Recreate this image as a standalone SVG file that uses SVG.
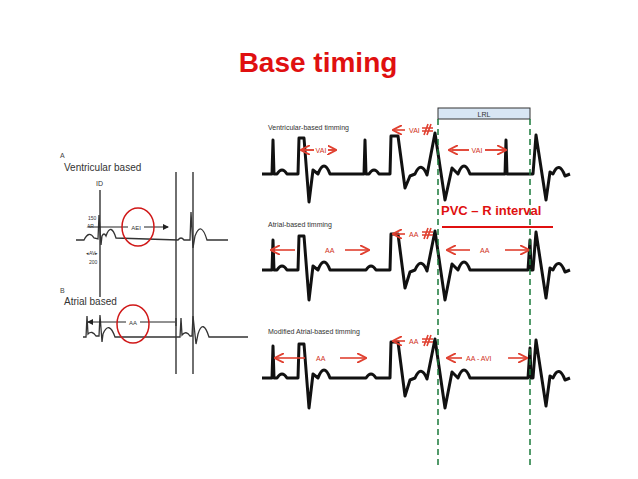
<svg xmlns="http://www.w3.org/2000/svg" width="638" height="479" viewBox="0 0 638 479">
<defs>
<style>
.t{font-family:"Liberation Sans",Arial,sans-serif}
.ecg{fill:none;stroke:#111;stroke-width:3;stroke-linejoin:round}
.ecgl{fill:none;stroke:#333;stroke-width:1.3}
.ra{stroke:#e04030;stroke-width:1.6;fill:none}
.gd{stroke:#1a7a3a;stroke-width:1.5;stroke-dasharray:6 4}
.lbl{font-size:7px;fill:#333}
.rl{font-size:7px;fill:#d03020}
</style>
<marker id="ah" markerWidth="6" markerHeight="6" refX="5" refY="3" orient="auto"><path d="M0,0L6,3L0,6" fill="none" stroke="#e04030" stroke-width="1.2"/></marker>
<marker id="bk" markerWidth="6" markerHeight="6" refX="5" refY="3" orient="auto"><path d="M0,0L6,3L0,6z" fill="#222"/></marker>
</defs>
<rect width="638" height="479" fill="#fff"/>
<text class="t" x="318" y="72" text-anchor="middle" font-size="28" font-weight="bold" fill="#e01010">Base timing</text>

<!-- left panel -->
<g id="left">
<text class="t" x="60" y="158" font-size="7" fill="#444">A</text>
<text class="t" x="64" y="171" font-size="10" fill="#333">Ventricular based</text>
<text class="t" x="96" y="186" font-size="7" fill="#333">ID</text>
<line x1="100" y1="190" x2="100" y2="297" stroke="#222" stroke-width="1.3"/>
<line x1="176" y1="172" x2="176" y2="374" stroke="#222" stroke-width="1.3"/>
<line x1="193" y1="172" x2="193" y2="374" stroke="#222" stroke-width="1.3"/>
<path class="ecgl" d="M76,240 L84,240 Q89,230 94,238 L98,239 L99,215 L101,245 L102,236 Q104,232 106,236 Q111,222 116,238 L178,240 Q181,236 184,240 L190,240 L191,212 L193,248 L195,236 Q201,220 207,240 L228,240"/>
<line x1="88" y1="227" x2="168" y2="227" stroke="#222" stroke-width="1" marker-end="url(#bk)"/>
<text class="t" x="88" y="220" font-size="5" fill="#333">150</text>
<text class="t" x="87" y="228" font-size="5" fill="#333">AR</text>
<text class="t" x="86" y="255" font-size="5" fill="#333">◂AV▸</text>
<text class="t" x="89" y="264" font-size="5" fill="#333">200</text>
<rect x="128" y="223" width="16" height="8" fill="#fff"/>
<text class="t" x="136" y="230" font-size="6" fill="#333" text-anchor="middle">AEI</text>
<ellipse cx="138" cy="227" rx="16" ry="19" fill="none" stroke="#d01818" stroke-width="1.5"/>
<text class="t" x="60" y="293" font-size="7" fill="#444">B</text>
<text class="t" x="64" y="305" font-size="10" fill="#333">Atrial based</text>
<path class="ecgl" d="M83,337 L86,337 L87,316 L88,334 Q92,330 96,336 L99,336 L100,315 L102,342 L103,334 Q109,320 115,337 L180,337 L181,318 L182,335 Q186,330 190,336 L192,336 L193,316 L196,344 L198,334 Q203,318 209,337 L248,337"/>
<line x1="175" y1="322" x2="88" y2="322" stroke="#222" stroke-width="1" marker-end="url(#bk)"/>
<line x1="176" y1="318" x2="176" y2="326" stroke="#222" stroke-width="1"/>
<rect x="126" y="318" width="14" height="8" fill="#fff"/>
<text class="t" x="133" y="325" font-size="6" fill="#333" text-anchor="middle">AA</text>
<ellipse cx="133" cy="324" rx="16" ry="19" fill="none" stroke="#d01818" stroke-width="1.5"/>
</g>

<!-- right panel -->
<g id="right">
<rect x="438" y="108" width="92" height="11" fill="#d8e6f4" stroke="#333" stroke-width="1"/>
<text class="t" x="484" y="117" font-size="7" fill="#333" text-anchor="middle">LRL</text>

<text class="t" x="268" y="130" font-size="7" fill="#333">Ventricular-based timming</text>
<path id="tr1" class="ecg" d="M262,174 L272,174 L273,140 L274,174 L277,174 Q282,166 287,174 L298,174 L299,138 L302,138 L304,138 L309,202 L313,170 L318,174 Q324,158 330,174 L364,174 L365,140 L366,174 L369,174 Q374,166 379,174 L390,174 L391,136 L394,136 L398,136 L405,188 L410,176 L415,174 Q421,160 427,175 L435,133 L445,200 L452,168 L458,174 Q464,158 470,174 L505,174 L506,140 L507,174 L533,174 L536,135 L546,200 L550,172 L553,174 Q559,160 565,176 L570,174"/>
<line x1="302" y1="150" x2="335" y2="150" class="ra" marker-end="url(#ah)"/><line x1="335" y1="150" x2="302" y2="150" class="ra" marker-end="url(#ah)"/>
<rect x="314" y="145" width="14" height="9" fill="#fff"/>
<text class="t rl" x="321" y="153" text-anchor="middle">VAI</text>
<line x1="452" y1="150" x2="505" y2="150" class="ra" marker-end="url(#ah)"/><line x1="505" y1="150" x2="450" y2="150" class="ra" marker-end="url(#ah)"/>
<rect x="469" y="145" width="16" height="9" fill="#fff"/>
<text class="t rl" x="477" y="153" text-anchor="middle">VAI</text>
<line x1="405" y1="130" x2="394" y2="130" class="ra" marker-end="url(#ah)"/>
<text class="t rl" x="409" y="133">VAI</text>
<path d="M424,135 L428,124 M427,135 L431,124 M422,128 L433,128 M422,131 L433,131" class="ra"/>

<text class="t" x="268" y="227" font-size="7" fill="#333">Atrial-based timming</text>
<path class="ecg" d="M262,270 L272,270 L273,240 L274,270 L277,270 Q282,262 287,270 L298,270 L299,236 L302,236 L304,236 L309,300 L313,266 L318,270 Q324,254 330,270 L364,270 L366,270 Q371,262 376,270 L390,270 L391,234 L394,234 L398,234 L405,288 L410,272 L415,270 Q421,256 427,271 L435,231 L445,300 L452,264 L458,270 Q464,254 470,270 L528,270 L530,240 L531,270 L533,270 L536,232 L546,298 L550,268 L553,270 Q559,256 565,272 L570,270"/>
<line x1="295" y1="250" x2="272" y2="250" class="ra" marker-end="url(#ah)"/><line x1="345" y1="250" x2="368" y2="250" class="ra" marker-end="url(#ah)"/>
<text class="t rl" x="325" y="253">AA</text>
<line x1="470" y1="250" x2="448" y2="250" class="ra" marker-end="url(#ah)"/><line x1="505" y1="250" x2="528" y2="250" class="ra" marker-end="url(#ah)"/>
<text class="t rl" x="480" y="253">AA</text>
<line x1="405" y1="234" x2="394" y2="234" class="ra" marker-end="url(#ah)"/>
<text class="t rl" x="409" y="237">AA</text>
<path d="M424,239 L428,228 M427,239 L431,228 M422,232 L433,232 M422,235 L433,235" class="ra"/>

<text class="t" x="268" y="334" font-size="7" fill="#333">Modified Atrial-based timming</text>
<path class="ecg" d="M262,378 L272,378 L273,346 L274,378 L277,378 Q282,370 287,378 L298,378 L299,344 L302,344 L304,344 L309,408 L313,374 L318,378 Q324,362 330,378 L364,378 L366,378 Q371,370 376,378 L390,378 L391,342 L394,342 L398,342 L405,396 L410,380 L415,378 Q421,364 427,379 L435,339 L445,408 L452,372 L458,378 Q464,362 470,378 L528,378 L530,348 L531,378 L533,378 L536,340 L546,406 L550,376 L553,378 Q559,364 565,380 L570,378"/>
<line x1="305" y1="358" x2="276" y2="358" class="ra" marker-end="url(#ah)"/><line x1="340" y1="358" x2="365" y2="358" class="ra" marker-end="url(#ah)"/>
<text class="t rl" x="316" y="361">AA</text>
<line x1="462" y1="358" x2="448" y2="358" class="ra" marker-end="url(#ah)"/><line x1="508" y1="358" x2="526" y2="358" class="ra" marker-end="url(#ah)"/>
<text class="t rl" x="466" y="361">AA - AVI</text>
<line x1="405" y1="341" x2="394" y2="341" class="ra" marker-end="url(#ah)"/>
<text class="t rl" x="409" y="344">AA</text>
<path d="M424,346 L428,335 M427,346 L431,335 M422,339 L433,339 M422,342 L433,342" class="ra"/>

<line x1="438" y1="119" x2="438" y2="466" class="gd"/>
<line x1="530" y1="119" x2="530" y2="466" class="gd"/>
<text class="t" x="441" y="215" font-size="13" font-weight="bold" fill="#e01010">PVC – R interval</text>
<line x1="442" y1="227" x2="553" y2="227" stroke="#e01010" stroke-width="2"/>
</g>
</svg>
